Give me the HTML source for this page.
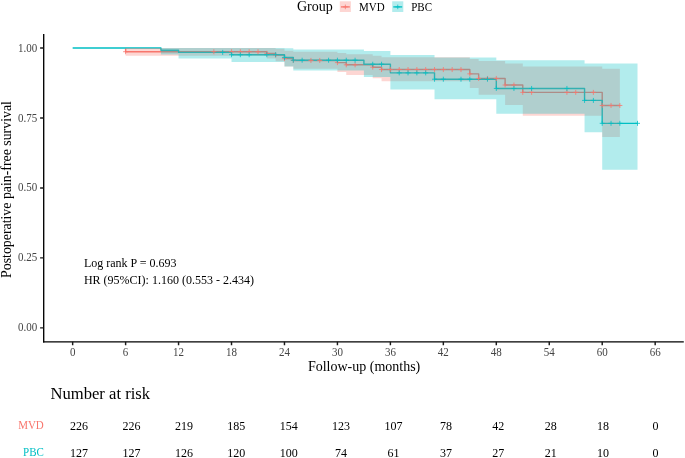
<!DOCTYPE html>
<html><head><meta charset="utf-8"><title>Survival plot</title>
<style>html,body{margin:0;padding:0;background:#fff}svg{display:block}text{font-family:"Liberation Serif","Times New Roman",serif}</style></head><body>
<svg width="685" height="458" viewBox="0 0 685 458">
<rect width="685" height="458" fill="#fff"/>
<path d="M125.61,48.60H125.61V51.71H266.82V53.39H275.65V55.10H284.47V58.65H293.30V60.44H337.43V62.61H346.26V64.82H372.73V67.17H381.56V69.54H469.82V73.85H478.65V78.47H505.12V85.03H522.78V92.39H602.21V105.47H619.86" fill="none" stroke="#F8766D" stroke-width="1.42" stroke-linejoin="round"/>
<path d="M72.65,48.00H160.91V50.20H178.56V52.41H231.52V54.70H284.47V57.43H293.30V60.22H363.91V64.22H390.39V72.86H434.52V79.23H496.30V88.44H584.56V100.41H602.21V123.34H637.51" fill="none" stroke="#00BFC4" stroke-width="1.42" stroke-linejoin="round"/>
<path d="M125.61,48.00H266.82V48.05H275.65V48.80H284.47V50.68H293.30V51.75H337.43V52.96H346.26V54.27H372.73V55.70H381.56V57.21H469.82V58.92H478.65V61.05H505.12V63.39H522.78V66.44H602.21V68.64H619.86V137.06H602.21V115.76H522.78V104.90H505.12V94.74H478.65V87.95H469.82V81.32H381.56V78.16H372.73V74.97H346.26V71.93H337.43V68.85H293.30V66.38H284.47V61.26H275.65V58.62H266.82V55.86H125.61Z" fill="#F8766D" fill-opacity="0.3"/>
<path d="M160.91,48.00H178.56V48.00H231.52V48.00H284.47V48.14H293.30V49.46H363.91V50.92H390.39V55.05H434.52V57.51H496.30V60.13H584.56V63.52H602.21V63.43H637.51V169.68H602.21V132.16H584.56V113.76H496.30V99.22H434.52V89.51H390.39V76.88H363.91V70.57H293.30V66.42H284.47V62.10H231.52V58.40H178.56V54.47H160.91Z" fill="#00BFC4" fill-opacity="0.3"/>
<path d="M123.11,51.71h5.0M125.61,49.21v5.0M211.37,51.71h5.0M213.87,49.21v5.0M229.02,51.71h5.0M231.52,49.21v5.0M237.84,51.71h5.0M240.34,49.21v5.0M246.67,51.71h5.0M249.17,49.21v5.0M255.50,51.71h5.0M258.00,49.21v5.0M264.32,53.39h5.0M266.82,50.89v5.0M273.15,55.10h5.0M275.65,52.60v5.0M281.97,58.65h5.0M284.47,56.15v5.0M290.80,60.44h5.0M293.30,57.94v5.0M308.45,60.44h5.0M310.95,57.94v5.0M317.28,60.44h5.0M319.78,57.94v5.0M334.93,62.61h5.0M337.43,60.11v5.0M343.76,64.82h5.0M346.26,62.32v5.0M352.58,64.82h5.0M355.08,62.32v5.0M370.23,67.17h5.0M372.73,64.67v5.0M379.06,69.54h5.0M381.56,67.04v5.0M387.89,69.54h5.0M390.39,67.04v5.0M396.71,69.54h5.0M399.21,67.04v5.0M405.54,69.54h5.0M408.04,67.04v5.0M414.36,69.54h5.0M416.86,67.04v5.0M423.19,69.54h5.0M425.69,67.04v5.0M432.02,69.54h5.0M434.52,67.04v5.0M440.84,69.54h5.0M443.34,67.04v5.0M449.67,69.54h5.0M452.17,67.04v5.0M458.49,69.54h5.0M460.99,67.04v5.0M467.32,73.85h5.0M469.82,71.35v5.0M476.15,78.47h5.0M478.65,75.97v5.0M484.97,78.47h5.0M487.47,75.97v5.0M493.80,78.47h5.0M496.30,75.97v5.0M502.62,85.03h5.0M505.12,82.53v5.0M511.45,85.03h5.0M513.95,82.53v5.0M520.28,92.39h5.0M522.78,89.89v5.0M529.10,92.39h5.0M531.60,89.89v5.0M564.41,92.39h5.0M566.91,89.89v5.0M573.23,92.39h5.0M575.73,89.89v5.0M590.88,92.39h5.0M593.38,89.89v5.0M599.71,105.47h5.0M602.21,102.97v5.0M608.54,105.47h5.0M611.04,102.97v5.0M617.36,105.47h5.0M619.86,102.97v5.0" fill="none" stroke="#F8766D" stroke-width="0.8"/>
<path d="M220.19,52.41h5.0M222.69,49.91v5.0M229.02,54.70h5.0M231.52,52.20v5.0M237.84,54.70h5.0M240.34,52.20v5.0M246.67,54.70h5.0M249.17,52.20v5.0M264.32,54.70h5.0M266.82,52.20v5.0M273.15,54.70h5.0M275.65,52.20v5.0M281.97,57.43h5.0M284.47,54.93v5.0M290.80,60.22h5.0M293.30,57.72v5.0M299.63,60.22h5.0M302.13,57.72v5.0M326.10,60.22h5.0M328.60,57.72v5.0M334.93,60.22h5.0M337.43,57.72v5.0M343.76,60.22h5.0M346.26,57.72v5.0M352.58,60.22h5.0M355.08,57.72v5.0M370.23,64.22h5.0M372.73,61.72v5.0M379.06,64.22h5.0M381.56,61.72v5.0M396.71,72.86h5.0M399.21,70.36v5.0M405.54,72.86h5.0M408.04,70.36v5.0M414.36,72.86h5.0M416.86,70.36v5.0M423.19,72.86h5.0M425.69,70.36v5.0M432.02,79.23h5.0M434.52,76.73v5.0M440.84,79.23h5.0M443.34,76.73v5.0M458.49,79.23h5.0M460.99,76.73v5.0M467.32,79.23h5.0M469.82,76.73v5.0M484.97,79.23h5.0M487.47,76.73v5.0M493.80,88.44h5.0M496.30,85.94v5.0M511.45,88.44h5.0M513.95,85.94v5.0M529.10,88.44h5.0M531.60,85.94v5.0M564.41,88.44h5.0M566.91,85.94v5.0M582.06,100.41h5.0M584.56,97.91v5.0M590.88,100.41h5.0M593.38,97.91v5.0M599.71,123.34h5.0M602.21,120.84v5.0M608.54,123.34h5.0M611.04,120.84v5.0M617.36,123.34h5.0M619.86,120.84v5.0M635.01,123.34h5.0M637.51,120.84v5.0" fill="none" stroke="#00BFC4" stroke-width="0.8"/>
<path d="M43.7,34.1V342.4" fill="none" stroke="#000" stroke-width="1.35"/>
<path d="M43.05,341.85H683.8" fill="none" stroke="#000" stroke-width="1.15"/>
<path d="M40.1,327.85H43.6M40.1,257.89H43.6M40.1,187.93H43.6M40.1,117.96H43.6M40.1,48.00H43.6M72.65,341.85V345.3M125.61,341.85V345.3M178.56,341.85V345.3M231.52,341.85V345.3M284.47,341.85V345.3M337.43,341.85V345.3M390.39,341.85V345.3M443.34,341.85V345.3M496.30,341.85V345.3M549.25,341.85V345.3M602.21,341.85V345.3M655.17,341.85V345.3" fill="none" stroke="#1a1a1a" stroke-width="1.45"/>
<g font-size="11" fill="#444" text-anchor="end">
<text transform="translate(37.2,331.40) scale(1,1.05)">0.00</text>
<text transform="translate(37.2,261.44) scale(1,1.05)">0.25</text>
<text transform="translate(37.2,191.48) scale(1,1.05)">0.50</text>
<text transform="translate(37.2,121.51) scale(1,1.05)">0.75</text>
<text transform="translate(37.2,51.55) scale(1,1.05)">1.00</text>
</g>
<g font-size="11" fill="#444" text-anchor="middle">
<text transform="translate(72.65,355.7) scale(1,1.05)">0</text>
<text transform="translate(125.61,355.7) scale(1,1.05)">6</text>
<text transform="translate(178.56,355.7) scale(1,1.05)">12</text>
<text transform="translate(231.52,355.7) scale(1,1.05)">18</text>
<text transform="translate(284.47,355.7) scale(1,1.05)">24</text>
<text transform="translate(337.43,355.7) scale(1,1.05)">30</text>
<text transform="translate(390.39,355.7) scale(1,1.05)">36</text>
<text transform="translate(443.34,355.7) scale(1,1.05)">42</text>
<text transform="translate(496.30,355.7) scale(1,1.05)">48</text>
<text transform="translate(549.25,355.7) scale(1,1.05)">54</text>
<text transform="translate(602.21,355.7) scale(1,1.05)">60</text>
<text transform="translate(655.17,355.7) scale(1,1.05)">66</text>
</g>
<text x="364.1" y="371" font-size="14" text-anchor="middle" fill="#000">Follow-up (months)</text>
<text transform="translate(10.9,189.5) rotate(-90)" font-size="13.85" text-anchor="middle" fill="#000">Postoperative pain-free survival</text>
<text x="83.9" y="267.2" font-size="12" fill="#000">Log rank P = 0.693</text>
<text x="83.9" y="284.4" font-size="12" fill="#000">HR (95%CI): 1.160 (0.553 - 2.434)</text>
<text x="296.9" y="11.2" font-size="14" fill="#000">Group</text>
<path d="M340.90000000000003,6.9H349.8" stroke="#F8766D" stroke-width="1.3" fill="none"/>
<rect x="339.8" y="1.3" width="11.1" height="10.7" fill="#F8766D" fill-opacity="0.3"/>
<path d="M343.05,6.9h4.6M345.35,4.6000000000000005v4.6" stroke="#F8766D" stroke-width="0.75" fill="none"/>
<path d="M393.3,6.9H402.2" stroke="#00BFC4" stroke-width="1.3" fill="none"/>
<rect x="392.2" y="1.3" width="11.1" height="10.7" fill="#00BFC4" fill-opacity="0.3"/>
<path d="M395.45,6.9h4.6M397.75,4.6000000000000005v4.6" stroke="#00BFC4" stroke-width="0.75" fill="none"/>
<text transform="translate(359,10.6) scale(1,1.1)" font-size="11" fill="#000">MVD</text>
<text transform="translate(411.2,10.6) scale(1,1.1)" font-size="11" fill="#000">PBC</text>
<text x="50.5" y="399.2" font-size="16.6" fill="#000">Number at risk</text>
<text transform="translate(43.8,428.6) scale(1,1.07)" font-size="11" fill="#F8766D" text-anchor="end">MVD</text>
<text transform="translate(43.8,455.7) scale(1,1.07)" font-size="11" fill="#00BFC4" text-anchor="end">PBC</text>
<g font-size="12" fill="#000" text-anchor="middle">
<text x="79.10" y="429.7">226</text>
<text x="79.10" y="456.7">127</text>
<text x="131.50" y="429.7">226</text>
<text x="131.50" y="456.7">127</text>
<text x="183.90" y="429.7">219</text>
<text x="183.90" y="456.7">126</text>
<text x="236.30" y="429.7">185</text>
<text x="236.30" y="456.7">120</text>
<text x="288.70" y="429.7">154</text>
<text x="288.70" y="456.7">100</text>
<text x="341.10" y="429.7">123</text>
<text x="341.10" y="456.7">74</text>
<text x="393.50" y="429.7">107</text>
<text x="393.50" y="456.7">61</text>
<text x="445.90" y="429.7">78</text>
<text x="445.90" y="456.7">37</text>
<text x="498.30" y="429.7">42</text>
<text x="498.30" y="456.7">27</text>
<text x="550.70" y="429.7">28</text>
<text x="550.70" y="456.7">21</text>
<text x="603.10" y="429.7">18</text>
<text x="603.10" y="456.7">10</text>
<text x="655.50" y="429.7">0</text>
<text x="655.50" y="456.7">0</text>
</g>
</svg></body></html>
